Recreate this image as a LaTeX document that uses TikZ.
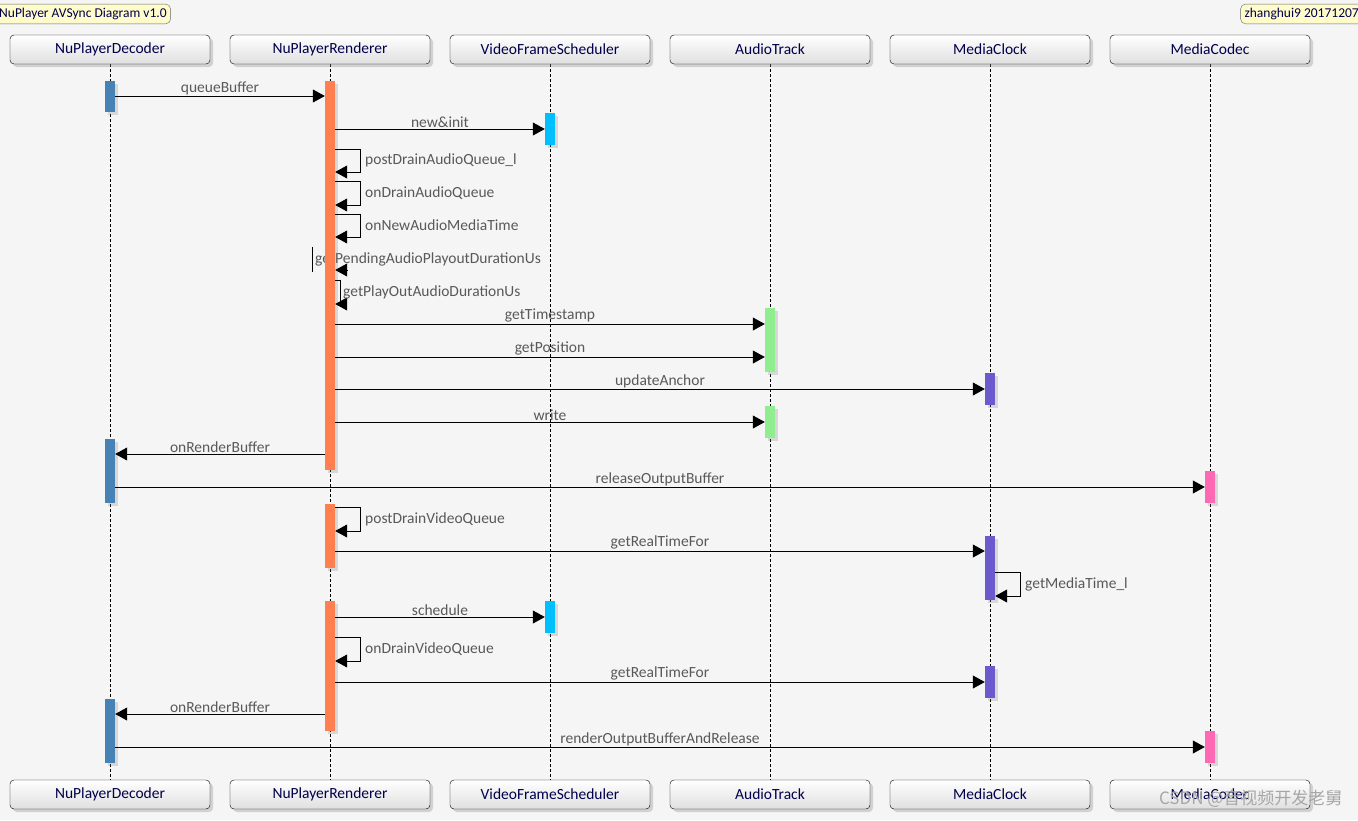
\documentclass[tikz,border=0pt]{standalone}
\usepackage{fontspec}
\setmainfont{Carlito}
\newfontfamily\cjkf{Noto Sans CJK SC}
\usetikzlibrary{arrows.meta,shadows}
\definecolor{steelblue}{HTML}{4682B4}
\definecolor{coral}{HTML}{FF7F50}
\definecolor{dsb}{HTML}{00BFFF}
\definecolor{lgreen}{HTML}{90EE90}
\definecolor{sblue}{HTML}{6A5ACD}
\definecolor{hpink}{HTML}{FF69B4}
\begin{document}
\begin{tikzpicture}[x=1pt,y=-1pt,
  part/.style={draw=black,rounded corners=4pt,minimum width=200pt,minimum height=29pt,top color=white,bottom color=gray!25,text=blue!30!black,font=\fontsize{15.5}{17}\selectfont,drop shadow={shadow xshift=3pt,shadow yshift=-3pt,opacity=0.3}},
  life/.style={densely dashed,line width=0.8pt},
  bar/.style={draw=none,minimum width=10pt,inner sep=0pt,drop shadow={shadow xshift=3pt,shadow yshift=-3pt,opacity=0.25}},
  msg/.style={line width=0.8pt,-{Triangle[length=12pt,width=13pt]}},
  lbl/.style={font=\fontsize{15.5}{17}\selectfont,text=black!65,inner sep=1pt},
  note/.style={draw=black!60,fill=yellow!20,rounded corners=5pt,font=\fontsize{13.5}{15}\selectfont,text=blue!30!black,inner sep=4pt}]
\useasboundingbox (0,0) rectangle (1358,820);
\fill[gray!8] (0,0) rectangle (1358,820);
\node[note,anchor=south west] (title) at (-5,24) {NuPlayer AVSync Diagram v1.0};
\node[note,anchor=south east] (auth) at (1363,24) {zhanghui9 20171207};
\foreach \n/\t/\x in {dec/NuPlayerDecoder/110,ren/NuPlayerRenderer/330,vfs/VideoFrameScheduler/550,at/AudioTrack/770,mc/MediaClock/990,codec/MediaCodec/1210}{
  \draw[life] (\x,64) -- (\x,780);
  \node[part] (\n t) at (\x,49.5) {\t};
  \node[part] (\n b) at (\x,794.5) {\t};
}
\newcommand{\mybar}[5]{\node[bar,fill=#2,minimum height=#5-#4] (#1) at (#3,{(#4+#5)/2}) {};}
\mybar{d1}{steelblue}{110}{81}{112}
\mybar{d2}{steelblue}{110}{439}{503}
\mybar{d3}{steelblue}{110}{699}{763}
\draw[line width=0.8pt] (312,247) -- (312,272);
\node[lbl,anchor=west] (l5) at (314,259) {getPendingAudioPlayoutDurationUs};
\mybar{r1}{coral}{330}{81}{470}
\mybar{r2}{coral}{330}{504}{568}
\mybar{r3}{coral}{330}{601}{731}
\mybar{v1}{dsb}{550}{113}{145}
\mybar{v2}{dsb}{550}{601}{633}
\mybar{a1}{lgreen}{770}{308}{372}
\mybar{a2}{lgreen}{770}{406}{438}
\mybar{m1}{sblue}{990}{373}{405}
\mybar{m2}{sblue}{990}{536}{600}
\mybar{m3}{sblue}{990}{666}{698}
\mybar{c1}{hpink}{1210}{471}{503}
\mybar{c2}{hpink}{1210}{731}{763}
\newcommand{\msgR}[4]{\draw[msg] (#1.east|-0,#3) -- node[lbl,above] {#4} (#2.west|-0,#3);}
\newcommand{\msgL}[4]{\draw[msg] (#1.west|-0,#3) -- node[lbl,above] {#4} (#2.east|-0,#3);}
\msgR{d1}{r1}{96}{queueBuffer}
\msgR{r1}{v1}{129}{new\&init}
\msgR{r1}{a1}{324}{getTimestamp}
\msgR{r1}{a1}{357}{getPosition}
\msgR{r1}{m1}{389}{updateAnchor}
\msgR{r1}{a2}{422}{write}
\msgL{r1}{d2}{454}{onRenderBuffer}
\msgR{d2}{c1}{487}{releaseOutputBuffer}
\msgR{r2}{m2}{551}{getRealTimeFor}
\msgR{r3}{v2}{617}{schedule}
\msgR{r3}{m3}{682}{getRealTimeFor}
\msgL{r3}{d3}{714}{onRenderBuffer}
\msgR{d3}{c2}{747}{renderOutputBufferAndRelease}
\newcommand{\selfm}[5]{\draw[msg] (#1.east|-0,#2) -- (#4,#2) -- (#4,#3) -- (#1.east|-0,#3);
  \node[lbl,anchor=west] at (#4+4,{(#2+#3)/2}) {#5};}
\selfm{r1}{149}{172}{360}{postDrainAudioQueue\_l}
\selfm{r1}{181}{205}{360}{onDrainAudioQueue}
\selfm{r1}{214}{237}{360}{onNewAudioMediaTime}
\draw[msg] (348,270) -- (r1.east|-0,270);
\draw[msg] (r1.east|-0,280) -- (340,280) -- (340,304) -- (r1.east|-0,304);
\node[lbl,anchor=west] (l6) at (342,292) {getPlayOutAudioDurationUs};
\selfm{r2}{507}{531}{360}{postDrainVideoQueue}
\selfm{m2}{572}{596}{1020}{getMediaTime\_l}
\selfm{r3}{637}{661}{360}{onDrainVideoQueue}
\node[font=\cjkf\fontsize{17}{19}\selectfont,text=gray!70,anchor=east] (wm) at (1346,799) {CSDN @音视频开发老舅};
\end{tikzpicture}
\end{document}
